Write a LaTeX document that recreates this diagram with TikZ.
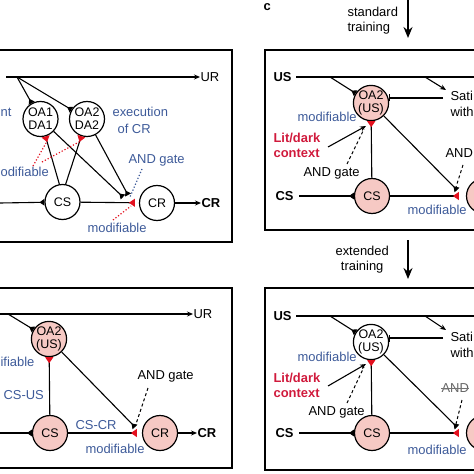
\documentclass[tikz,border=0pt]{standalone}
\usepackage{fontspec}
\setmainfont{Liberation Sans}
\usetikzlibrary{arrows.meta}
\definecolor{tblue}{HTML}{3D5A99}
\definecolor{tred}{HTML}{D01A3C}
\definecolor{synred}{HTML}{E3101E}
\definecolor{pinkf}{HTML}{F6C9C4}
\begin{document}
\begin{tikzpicture}[x=1bp,y=-1bp, line width=1.1bp,
  txt/.style={inner sep=0pt, anchor=west, font=\fontsize{13}{15}\selectfont},
  btxt/.style={txt, font=\fontsize{13}{15}\selectfont\bfseries},
  bluetxt/.style={txt, text=tblue},
  redtxt/.style={btxt, text=tred},
  circ/.style={circle, draw, line width=1.2bp, minimum size=35bp, inner sep=0pt, align=center, font=\fontsize{12.5}{13}\selectfont},
  pinkc/.style={circ, fill=pinkf},
  panel/.style={draw, line width=1.4bp},
  syn/.style={-{Triangle[reversed,length=5bp,width=6.5bp]}},
  rsyn/.style={-{Triangle[reversed,length=6bp,width=8bp,color=synred,fill=synred]}},
  arr/.style={-{Stealth[length=6bp,width=5bp]}},
  bigarr/.style={line width=1.5bp,-{Stealth[length=11bp,width=9bp]}},
  inh/.style={-{Bar[width=7bp]}},
  rdot/.style={dotted, draw=synred, line width=1.2bp},
  bdot/.style={dotted, draw=tblue, line width=1.2bp},
  kdash/.style={dashed, line width=1bp, dash pattern=on 3bp off 2.5bp}
]
\useasboundingbox (0,0) rectangle (474,474);

%%%%%%%%%%%%%%%% Panel top-left %%%%%%%%%%%%%%%%
\draw[panel] (-5,50) rectangle (232,242);
\coordinate (uB0) at (6,77);
\coordinate (bB1) at (17,77);
\node[txt] (URB) at (200,77) {UR};
\draw[arr] (uB0) -- (URB.west);
\node[circ] (OA1) at (40.5,119) {OA1\\DA1};
\node[circ] (OA2B) at (87,119) {OA2\\DA2};
\draw[syn] (bB1) -- (OA1);
\draw[syn] (bB1) -- (OA2B);
\node[circ] (CSB) at (62.5,202) {CS};
\node[circ] (CRB) at (157,203) {CR};
\coordinate (inB) at (0,203);
\draw[syn] (inB) -- (CSB);
\draw[rsyn] (CSB.100) -- (OA1);
\draw[rsyn] (CSB.80) -- (OA2B);
\coordinate (gB1) at (123,197);
\coordinate (gB2) at (128,195);
\draw[syn] (OA1) -- (gB1);
\draw[syn] (OA2B) -- (gB2);
\draw[rsyn, shorten >=4bp] (CSB) -- (CRB);
\node[btxt] (CRoutB) at (201,203) {CR};
\draw[arr] (CRB) -- (CRoutB.west);
\node[bluetxt] (ntB) at (0,112) {nt};
\node[bluetxt] (exB) at (112,112) {execution};
\node[bluetxt] (ofB) at (117,129) {of CR};
\node[bluetxt] (modB1) at (0,172) {odifiable};
\node[bluetxt] (andB) at (128,160) {AND gate};
\node[bluetxt] (modB2) at (87,228) {modifiable};
\coordinate (d1a) at (33,166); \coordinate (d1b) at (46,143);
\coordinate (d2a) at (42,162); \coordinate (d2b) at (79,142);
\coordinate (d3a) at (113,220); \coordinate (d3b) at (131,206);
\coordinate (d4a) at (142,169); \coordinate (d4b) at (130,197);
\draw[rdot] (d1a) -- (d1b);
\draw[rdot] (d2a) -- (d2b);
\draw[rdot] (d3a) -- (d3b);
\draw[bdot] (d4a) -- (d4b);

%%%%%%%%%%%%%%%% Panel top-right %%%%%%%%%%%%%%%%
\node[btxt] (labC) at (263,7) {c};
\node[txt, align=left] (stdT) at (347,21) {standard\\training};
\coordinate (aC0) at (408,0); \coordinate (aC1) at (408,38);
\draw[bigarr] (aC0) -- (aC1);
\draw[panel] (265,50) rectangle (480,230);
\node[btxt] (USC) at (273,77) {US};
\coordinate (uC1) at (480,77);
\draw (USC.east) ++(4,0) coordinate (uC0) -- (uC1);
\coordinate (bC1) at (330,77); \coordinate (bC2) at (425,77);
\node[pinkc] (OAC) at (371,103) {OA2\\(US)};
\draw[syn] (bC1) -- (OAC);
\node[txt] (satC) at (450,96) {Sati};
\node[txt] (withC) at (450,112) {with};
\coordinate (sC) at (446,90);
\draw[arr] (bC2) -- (sC);
\coordinate (iC) at (443,98);
\draw[inh] (iC) -- (OAC.east |- iC);
\node[bluetxt] (modC1) at (297,117) {modifiable};
\node[pinkc] (CSC) at (372,196) {CS};
\node[pinkc] (CRC) at (484,196) {CR};
\draw[rsyn] (CSC) -- (OAC);
\node[redtxt, align=left] (litC) at (273,145) {Lit/dark\\context};
\coordinate (lC0) at (328,147); \coordinate (lC1) at (366,126);
\draw[arr] (lC0) -- (lC1);
\coordinate (dC0) at (347,164); \coordinate (dC1) at (364,129);
\draw[kdash] (dC0) -- (dC1);
\node[txt] (andC) at (303,173) {AND gate};
\node[btxt] (CSlC) at (275,196) {CS};
\draw[syn] (CSlC.east) ++(5,0) coordinate (cC0) -- (CSC);
\coordinate (gC) at (457,190);
\draw[syn] (OAC) -- (gC);
\draw[rsyn, shorten >=7bp] (CSC) -- (CRC);
\node[txt] (andC2) at (445,153) {AND};
\coordinate (dC2) at (463,165); \coordinate (dC3) at (456,187);
\draw[kdash] (dC2) -- (dC3);
\node[bluetxt] (modC2) at (407,210) {modifiable};

%%%%%%%%%%%%%%%% Panel bottom-left %%%%%%%%%%%%%%%%
\draw[panel] (-5,288) rectangle (232,468);
\coordinate (uD0) at (0,314);
\coordinate (bD1) at (8,314);
\node[txt] (URD) at (193,314) {UR};
\draw[arr] (uD0) -- (URD.west);
\node[pinkc] (OAD) at (49,339) {OA2\\(US)};
\draw[syn] (bD1) -- (OAD);
\node[bluetxt] (modD1) at (0,362) {ifiable};
\node[pinkc] (CSD) at (50,433) {CS};
\node[pinkc] (CRD) at (160,433) {CR};
\draw[rsyn] (CSD) -- (OAD);
\node[bluetxt] (csus) at (3,395) {CS-US};
\coordinate (inD) at (0,433);
\draw[syn] (inD) -- (CSD);
\node[bluetxt] (cscr) at (75,425) {CS-CR};
\draw[rsyn, shorten >=5bp] (CSD) -- (CRD);
\node[btxt] (CRoutD) at (197,433) {CR};
\draw[arr] (CRD) -- (CRoutD.west);
\coordinate (gD) at (135,427);
\draw[syn] (OAD) -- (gD);
\node[txt] (andD) at (137,376) {AND gate};
\coordinate (dD0) at (148,388); \coordinate (dD1) at (136,424);
\draw[kdash] (dD0) -- (dD1);
\node[bluetxt] (modD2) at (85,449) {modifiable};

%%%%%%%%%%%%%%%% Panel bottom-right %%%%%%%%%%%%%%%%
\node[txt, align=center] (extT) at (335,260) {extended\\training};
\coordinate (aE0) at (408,240); \coordinate (aE1) at (408,279);
\draw[bigarr] (aE0) -- (aE1);
\draw[panel] (265,288) rectangle (480,470);
\node[btxt] (USE) at (273,316) {US};
\coordinate (uE1) at (480,316);
\draw (USE.east) ++(4,0) coordinate (uE0) -- (uE1);
\coordinate (bE1) at (330,316); \coordinate (bE2) at (425,316);
\node[circ, fill=white] (OAE) at (371,342) {OA2\\(US)};
\draw[syn] (bE1) -- (OAE);
\node[txt] (satE) at (450,337) {Sati};
\node[txt] (withE) at (450,353) {with};
\coordinate (sE) at (446,330);
\draw[arr] (bE2) -- (sE);
\coordinate (iE) at (443,338);
\draw[inh] (iE) -- (OAE.east |- iE);
\node[bluetxt] (modE1) at (297,357) {modifiable};
\node[pinkc] (CSE) at (372,433) {CS};
\node[pinkc] (CRE) at (484,433) {CR};
\draw[rsyn] (CSE) -- (OAE);
\node[redtxt, align=left] (litE) at (273,385) {Lit/dark\\context};
\coordinate (lE0) at (328,386); \coordinate (lE1) at (366,364);
\draw[arr] (lE0) -- (lE1);
\coordinate (dE0) at (347,403); \coordinate (dE1) at (364,367);
\draw[kdash] (dE0) -- (dE1);
\node[txt] (andE) at (308,412) {AND gate};
\node[btxt] (CSlE) at (275,433) {CS};
\draw[syn] (CSlE.east) ++(5,0) coordinate (cE0) -- (CSE);
\coordinate (gE) at (457,427);
\draw[syn] (OAE) -- (gE);
\draw[rsyn, shorten >=7bp] (CSE) -- (CRE);
\node[txt, text=black!60] (andE2) at (441,388) {AND};
\draw[black!55, line width=0.8bp] (andE2.west) -- (andE2.east);
\coordinate (dE2) at (462,400); \coordinate (dE3) at (456,424);
\draw[kdash] (dE2) -- (dE3);
\node[bluetxt] (modE2) at (407,450) {modifiable};
\end{tikzpicture}
\end{document}
